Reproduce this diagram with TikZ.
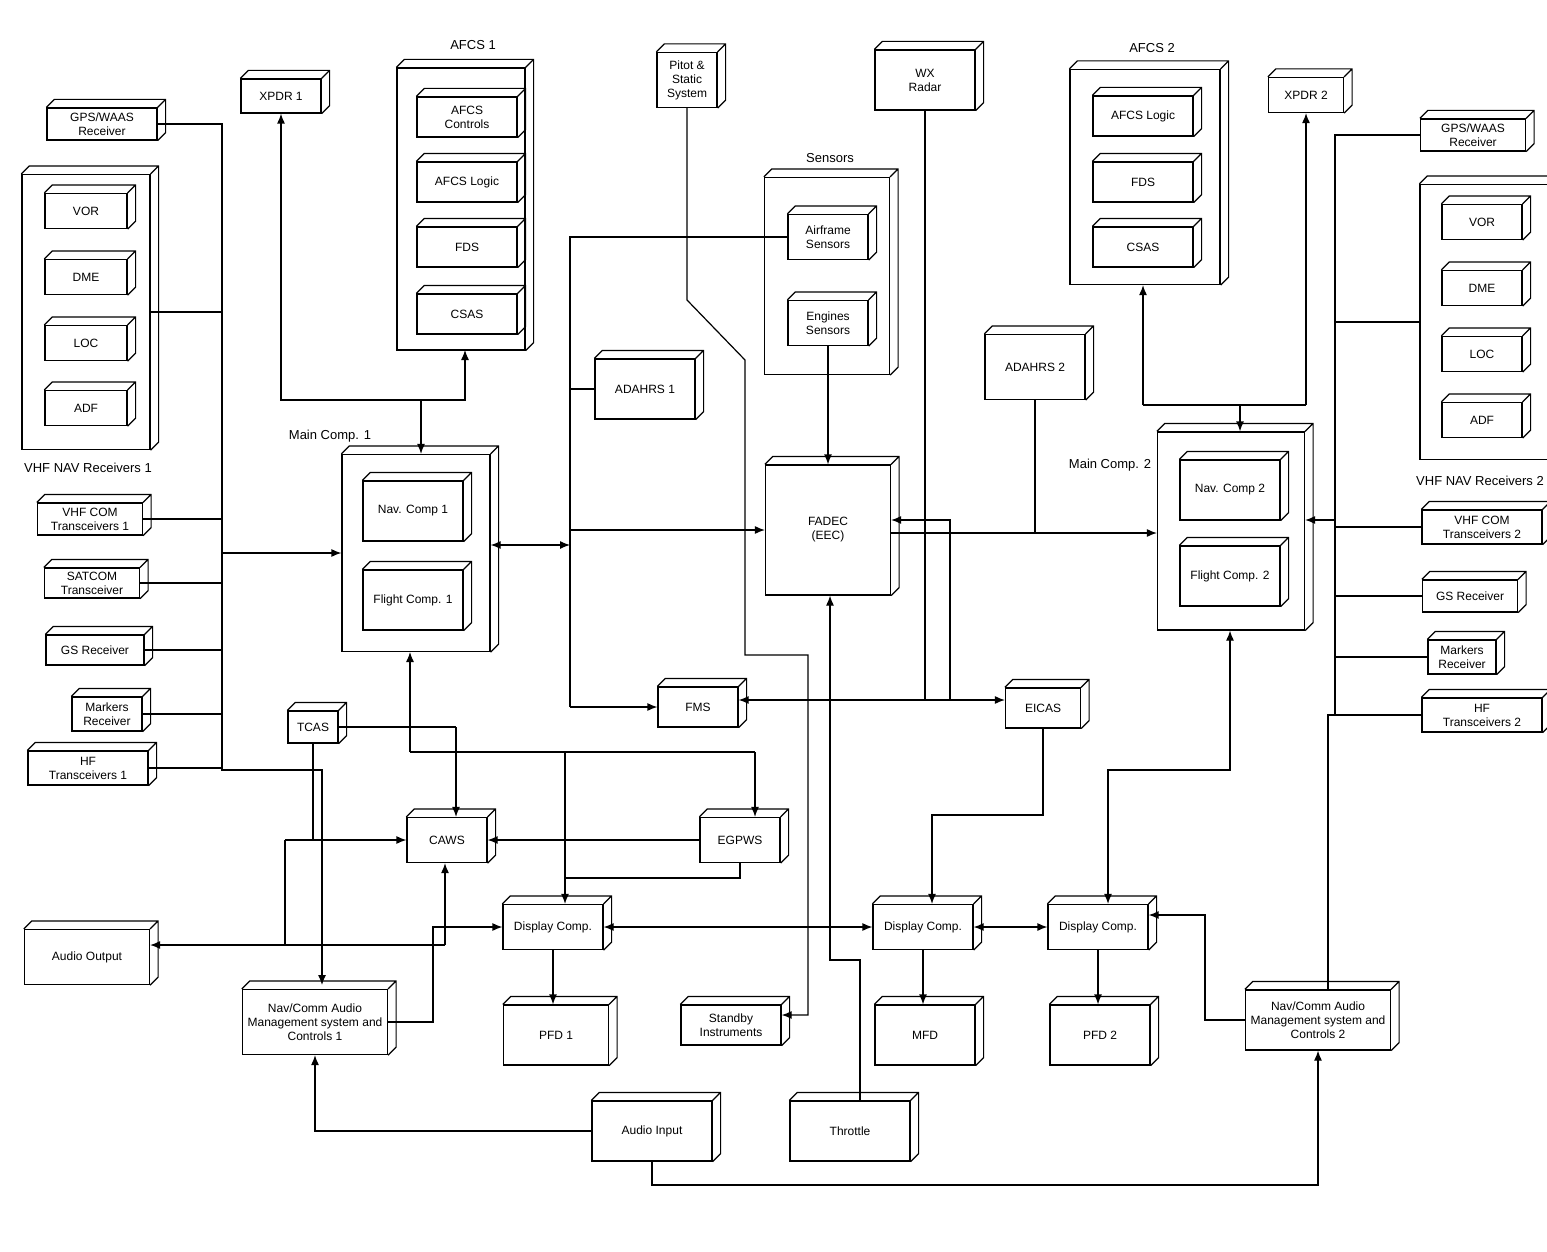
\documentclass[tikz,border=0pt]{standalone}
\usepackage{fontspec}
\setmainfont{Liberation Sans}
\usetikzlibrary{arrows.meta}
\newcommand\cubize[1]{\draw[cubeline] (#1.north west) -- ++(4pt,4pt) -| ([shift={(4pt,4pt)}]#1.south east) -- (#1.south east) (#1.north east) -- ++(4pt,4pt);}
\newcommand\nb[6]{\node[cube, minimum width=#4*0.5pt, minimum height=#5*0.5pt] (#1) at (#2,#3) {#6};}
\begin{document}
\begin{tikzpicture}[x=0.5pt,y=-0.5pt,
  cube/.style={draw, fill=white, inner sep=1pt, align=center, font=\fontsize{6}{7}\selectfont, line width=0.6pt},
  cubeline/.style={line width=0.6pt},
  lbl/.style={font=\fontsize{6.5}{7.5}\selectfont},
  ln/.style={line width=0.6pt},
  ar/.style={ln, -{Latex[length=5pt,width=4pt]}},
  dar/.style={ln, {Latex[length=5pt,width=4pt]}-{Latex[length=5pt,width=4pt]}}]
\useasboundingbox (0,0) rectangle (1547,1252);
% containers
\nb{nav1}{86}{312}{128}{275}{}
\nb{afcs1}{461}{209}{128}{282}{}
\nb{main1}{416}{553}{148}{197}{}
\nb{sens}{827}{276}{125}{197}{}
\nb{afcs2}{1145}{177}{150}{215}{}
\nb{nav2}{1485}{322}{130}{275}{}
\nb{main2}{1231}{531}{147}{198}{}
\foreach \n in {nav1,afcs1,main1,sens,afcs2,nav2,main2} {\cubize{\n}}
\node[lbl] (l1) at (88,468) {VHF NAV Receivers 1};
\node[lbl] (l2) at (473,45) {AFCS 1};
\node[lbl] (l3) at (330,436) {Main Comp. 1};
\node[lbl] (l4) at (830,158) {Sensors};
\node[lbl] (l5) at (1152,48) {AFCS 2};
\node[lbl] (l6) at (1480,481) {VHF NAV Receivers 2};
\node[lbl] (l7) at (1110,465) {Main Comp. 2};
% boxes
\nb{gps1}{102}{124}{110}{32}{GPS/WAAS\\Receiver}
\nb{vor1}{86}{211}{82}{35}{VOR}
\nb{dme1}{86}{277}{82}{35}{DME}
\nb{loc1}{86}{343}{82}{35}{LOC}
\nb{adf1}{86}{408}{82}{35}{ADF}
\nb{com1}{90}{519}{105}{32}{VHF COM\\Transceivers 1}
\nb{sat}{92}{583}{95}{30}{SATCOM\\Transceiver}
\nb{gs1}{95}{650}{98}{30}{GS Receiver}
\nb{mk1}{107}{714}{70}{34}{Markers\\Receiver}
\nb{hf1}{88}{768}{120}{34}{HF\\Transceivers 1}
\nb{aout}{87}{957}{125}{55}{Audio Output}
\nb{xpdr1}{281}{96}{80}{34}{XPDR 1}
\nb{afc}{467}{117}{100}{40}{AFCS\\Controls}
\nb{afl1}{467}{182}{100}{40}{AFCS Logic}
\nb{fds1}{467}{247}{100}{40}{FDS}
\nb{csas1}{467}{314}{100}{40}{CSAS}
\nb{navc1}{413}{511}{100}{60}{Nav. Comp 1}
\nb{flc1}{413}{600}{100}{60}{Flight Comp. 1}
\nb{pitot}{687}{80}{60}{55}{Pitot \&\\Static\\System}
\nb{wx}{925}{80}{100}{60}{WX\\Radar}
\nb{airf}{828}{237}{80}{45}{Airframe\\Sensors}
\nb{eng}{828}{323}{80}{45}{Engines\\Sensors}
\nb{adh1}{645}{389}{100}{60}{ADAHRS 1}
\nb{fadec}{828}{530}{125}{130}{FADEC\\(EEC)}
\nb{afl2}{1143}{116}{100}{40}{AFCS Logic}
\nb{fds2}{1143}{182}{100}{40}{FDS}
\nb{csas2}{1143}{247}{100}{40}{CSAS}
\nb{xpdr2}{1306}{95}{75}{35}{XPDR 2}
\nb{gps2}{1473}{135}{105}{32}{GPS/WAAS\\Receiver}
\nb{vor2}{1482}{222}{80}{35}{VOR}
\nb{dme2}{1482}{288}{80}{35}{DME}
\nb{loc2}{1482}{354}{80}{35}{LOC}
\nb{adf2}{1482}{420}{80}{35}{ADF}
\nb{adh2}{1035}{367}{100}{65}{ADAHRS 2}
\nb{navc2}{1230}{490}{100}{60}{Nav. Comp 2}
\nb{flc2}{1230}{576}{100}{60}{Flight Comp. 2}
\nb{com2}{1482}{527}{120}{34}{VHF COM\\Transceivers 2}
\nb{gs2}{1470}{596}{95}{32}{GS Receiver}
\nb{mk2}{1462}{657}{68}{34}{Markers\\Receiver}
\nb{hf2}{1482}{715}{120}{34}{HF\\Transceivers 2}
\nb{fms}{698}{707}{80}{40}{FMS}
\nb{eicas}{1043}{708}{75}{40}{EICAS}
\nb{tcas}{313}{727}{50}{32}{TCAS}
\nb{caws}{447}{840}{80}{45}{CAWS}
\nb{egpws}{740}{840}{80}{45}{EGPWS}
\nb{dc1}{553}{927}{100}{45}{Display Comp.}
\nb{dc2}{923}{927}{100}{45}{Display Comp.}
\nb{dc3}{1098}{927}{100}{45}{Display Comp.}
\nb{pfd1}{556}{1035}{105}{60}{PFD 1}
\nb{stby}{731}{1025}{100}{40}{Standby\\Instruments}
\nb{mfd}{925}{1035}{100}{60}{MFD}
\nb{pfd2}{1100}{1035}{100}{60}{PFD 2}
\nb{nc1}{315}{1022}{145}{65}{Nav/Comm Audio\\Management system and\\Controls 1}
\nb{nc2}{1318}{1020}{145}{60}{Nav/Comm Audio\\Management system and\\Controls 2}
\nb{ain}{652}{1131}{120}{60}{Audio Input}
\nb{thr}{850}{1131}{120}{60}{Throttle}
\foreach \n in {gps1,vor1,dme1,loc1,adf1,com1,sat,gs1,mk1,hf1,aout,xpdr1,afc,afl1,fds1,csas1,navc1,flc1,pitot,wx,airf,eng,adh1,fadec,afl2,fds2,csas2,xpdr2,gps2,vor2,dme2,loc2,adf2,adh2,navc2,flc2,com2,gs2,mk2,hf2,fms,eicas,tcas,caws,egpws,dc1,dc2,dc3,pfd1,stby,mfd,pfd2,nc1,nc2,ain,thr} {\cubize{\n}}
% coordinates
\coordinate (lb1) at (222,124); \coordinate (lb2) at (222,770);
\coordinate (rb1) at (1335,135); \coordinate (rb2) at (1335,715);
% left bus
\draw[ln] (gps1.east) -- (lb1) -- (lb2) -- (322,770) -- (322,800);
\draw[ar] (322,800) -- (322,985);
\foreach \n in {nav1,com1,sat,gs1,mk1,hf1} {\draw[ln] (\n.east) -- (\n.east -| lb1);}
\draw[ar] (222,553) -- (main1.west);
% xpdr1 / afcs1
\draw[ar] (421,400) -- (xpdr1.south |- 400,400) -- (xpdr1.south);
\draw[ar] (421,400) -- (465,400) -- (465,350);
\draw[ar] (421,400) -- (main1.north -| 421,0);
% tcas & caws
\draw[ln] (tcas.east) -- (tcas.east -| 456,0);
\draw[ar] (tcas.east -| 456,0) -- (caws.north -| 456,0);
\draw[ln] (tcas.south) -- (313,840);
\draw[ar] (285,840) -- (caws.west);
\draw[ln] (285,840) -- (285,945);
\draw[ar] (445,945) -- (caws.south -| 445,0);
\draw[ar] (445,945) -- (aout.east |- 0,945);
\draw[ar] (410,752) -- (410,652);
\draw[ln] (410,752) -- (755,752);
\draw[ar] (755,752) -- (egpws.north -| 755,0);
\draw[ar] (565,752) -- (dc1.north -| 565,0);
\draw[ar] (egpws.west) -- (caws.east);
\draw[ln] (egpws.south) -- (740,878) -- (565,878);
\draw[ar] (nc1.east) -- (nc1.east -| 433,0) |- (dc1.west);
% sensors / adahrs1
\draw[ln] (adh1.west) -- (570,389);
\draw[ln] (airf.west) -- (570,237) -- (570,707);
\draw[ar] (570,707) -- (fms.west);
\draw[dar] (570,545) -- (main1.east |- 0,545);
\draw[ar] (570,530) -- (fadec.west);
\draw[ar] (eng.south) -- (fadec.north);
\draw[ar] (pitot.south) -- (687,300) -- (745,360) -- (745,655) -- (808,655) -- (808,1015) -- (stby.east |- 0,1015);
\draw[ar] (thr.north -| 860,0) -- (860,960) -- (830,960) -- (fadec.south -| 830,0);
% wx / eicas
\draw[ln] (wx.south) -- (925,700);
\draw[ar] (925,700) -- (fms.east |- 0,700);
\draw[ar] (925,700) -- (eicas.west |- 0,700);
\draw[ar] (eicas.south) -- (eicas.south |- 0,815) -- (932,815) -- (dc2.north -| 932,0);
\draw[ar] (950,700) -- (950,520) -- (fadec.east |- 0,520);
\draw[ar] (fadec.east |- 0,533) -- (main2.west |- 0,533);
\draw[ln] (adh2.south) -- (1035,533);
% main comp 2
\draw[ln] (1143,405) -- (1306,405);
\draw[ar] (1306,405) -- (xpdr2.south);
\draw[ar] (1143,405) -- (afcs2.south -| 1143,0);
\draw[ar] (1240,405) -- (main2.north -| 1240,0);
% right bus
\draw[ln] (gps2.west) -- (rb1) -- (rb2);
\foreach \n in {nav2,com2,gs2,mk2,hf2} {\draw[ln] (\n.west) -- (\n.west -| rb1);}
\draw[ar] (1335,520) -- (main2.east |- 0,520);
\draw[ln] (nc2.north -| 1328,0) -- (1328,715) -- (rb2);
\draw[dar] (main2.south -| 1230,0) -- (1230,770) -- (1108,770) -- (dc3.north -| 1108,0);
\draw[ar] (nc2.west) -- (1205,1020) -- (1205,915) -- (dc3.east |- 0,915);
% displays
\draw[dar] (dc1.east) -- (dc2.west);
\draw[dar] (dc2.east) -- (dc3.west);
\draw[ar] (dc1.south) -- (pfd1.north -| dc1.south);
\draw[ar] (dc2.south) -- (mfd.north -| dc2.south);
\draw[ar] (dc3.south) -- (pfd2.north -| dc3.south);
% audio input
\draw[ar] (ain.west) -- (315,1131) -- (nc1.south);
\draw[ar] (ain.south) -- (652,1185) -- (1318,1185) -- (nc2.south);
\end{tikzpicture}
\end{document}
